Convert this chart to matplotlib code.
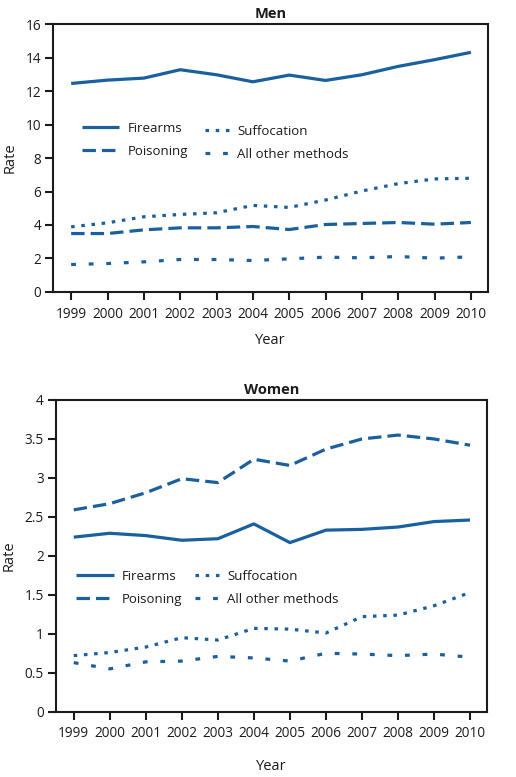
import matplotlib
matplotlib.use("Agg")
import matplotlib.pyplot as plt
from matplotlib.ticker import FormatStrFormatter

years = [1999, 2000, 2001, 2002, 2003, 2004, 2005, 2006, 2007, 2008, 2009, 2010]

men_firearms = [12.45, 12.65, 12.77, 13.27, 12.97, 12.55, 12.95, 12.63, 12.97, 13.47, 13.87, 14.31]
men_suffocation = [3.89, 4.13, 4.49, 4.63, 4.73, 5.17, 5.05, 5.49, 6.03, 6.47, 6.75, 6.79]
men_poisoning = [3.49, 3.49, 3.71, 3.83, 3.83, 3.91, 3.73, 4.03, 4.09, 4.15, 4.05, 4.15]
men_other = [1.64, 1.70, 1.80, 1.94, 1.94, 1.88, 1.98, 2.08, 2.04, 2.12, 2.02, 2.10]

women_firearms = [2.24, 2.29, 2.26, 2.20, 2.22, 2.41, 2.17, 2.33, 2.34, 2.37, 2.44, 2.46]
women_poisoning = [2.59, 2.67, 2.81, 2.99, 2.94, 3.24, 3.16, 3.37, 3.50, 3.55, 3.50, 3.42]
women_suffocation = [0.72, 0.76, 0.83, 0.95, 0.92, 1.07, 1.06, 1.01, 1.22, 1.24, 1.36, 1.53]
women_other = [0.63, 0.55, 0.64, 0.65, 0.71, 0.69, 0.65, 0.75, 0.74, 0.72, 0.74, 0.70]

labels = ["Firearms", "Poisoning", "Suffocation", "All other methods"]

COLOR = "#1a5f9e"
TEXT = "#1e1a1b"
LW = 2.3
styles = {
    "Firearms": "-",
    "Poisoning": (0, (4.2, 1.9)),
    "Suffocation": (0, (1.1, 2.1)),
    "All other methods": (0, (1.5, 4.0)),
}

plt.rcParams["font.family"] = ["Open Sans", "DejaVu Sans"]
plt.rcParams["text.color"] = TEXT
plt.rcParams["axes.labelcolor"] = TEXT
plt.rcParams["xtick.color"] = TEXT
plt.rcParams["ytick.color"] = TEXT

fig = plt.figure(figsize=(5.16, 7.77), dpi=100)
ax1 = fig.add_axes([0.1027, 0.6242, 0.843, 0.3449])
ax2 = fig.add_axes([0.108, 0.0840, 0.8358, 0.4012])


def draw(ax, title, series, ylim, yticks, leg_pos, xlabelpad):
    handles = []
    for lab, vals in zip(labels, series):
        h, = ax.plot(years, vals, color=COLOR, lw=LW, linestyle=styles[lab],
                     label=lab, solid_capstyle="butt", dash_capstyle="butt")
        handles.append(h)
    ax.set_xlim(1998.5, 2010.47)
    ax.set_ylim(*ylim)
    ax.set_yticks(yticks)
    ax.yaxis.set_major_formatter(FormatStrFormatter("%g"))
    ax.set_xticks(years)
    for s in ax.spines.values():
        s.set_linewidth(1.5)
        s.set_color(TEXT)
    ax.tick_params(axis="y", direction="out", length=5.5, width=1.5, labelsize=9.8, pad=3)
    ax.tick_params(axis="x", direction="out", length=5.5, width=1.5, labelsize=9.8, pad=5)
    ax.set_title(title, fontsize=10.5, fontweight="bold", pad=4)
    ax.set_ylabel("Rate", fontsize=10.5, labelpad=6)
    ax.set_xlabel("Year", fontsize=10.5, labelpad=xlabelpad)
    l1 = ax.legend(handles[:2], labels[:2], loc="upper left", bbox_to_anchor=leg_pos[0],
                   frameon=False, fontsize=9.5, handlelength=2.85, handletextpad=0.6,
                   labelspacing=0.75, borderaxespad=0)
    ax.add_artist(l1)
    ax.legend(handles[2:], labels[2:], loc="upper left", bbox_to_anchor=leg_pos[1],
              frameon=False, fontsize=9.5, handlelength=1.85, handletextpad=0.6,
              labelspacing=0.75, borderaxespad=0)


draw(ax1, "Men", [men_firearms, men_poisoning, men_suffocation, men_other],
     (0, 16), list(range(0, 17, 2)), [(0.054, 0.655), (0.337, 0.643)], 8)
draw(ax2, "Women", [women_firearms, women_poisoning, women_suffocation, women_other],
     (0, 4), [0, 0.5, 1, 1.5, 2, 2.5, 3, 3.5, 4], [(0.035, 0.472), (0.31, 0.472)], 12.5)

fig.savefig("out.png", dpi=100)
